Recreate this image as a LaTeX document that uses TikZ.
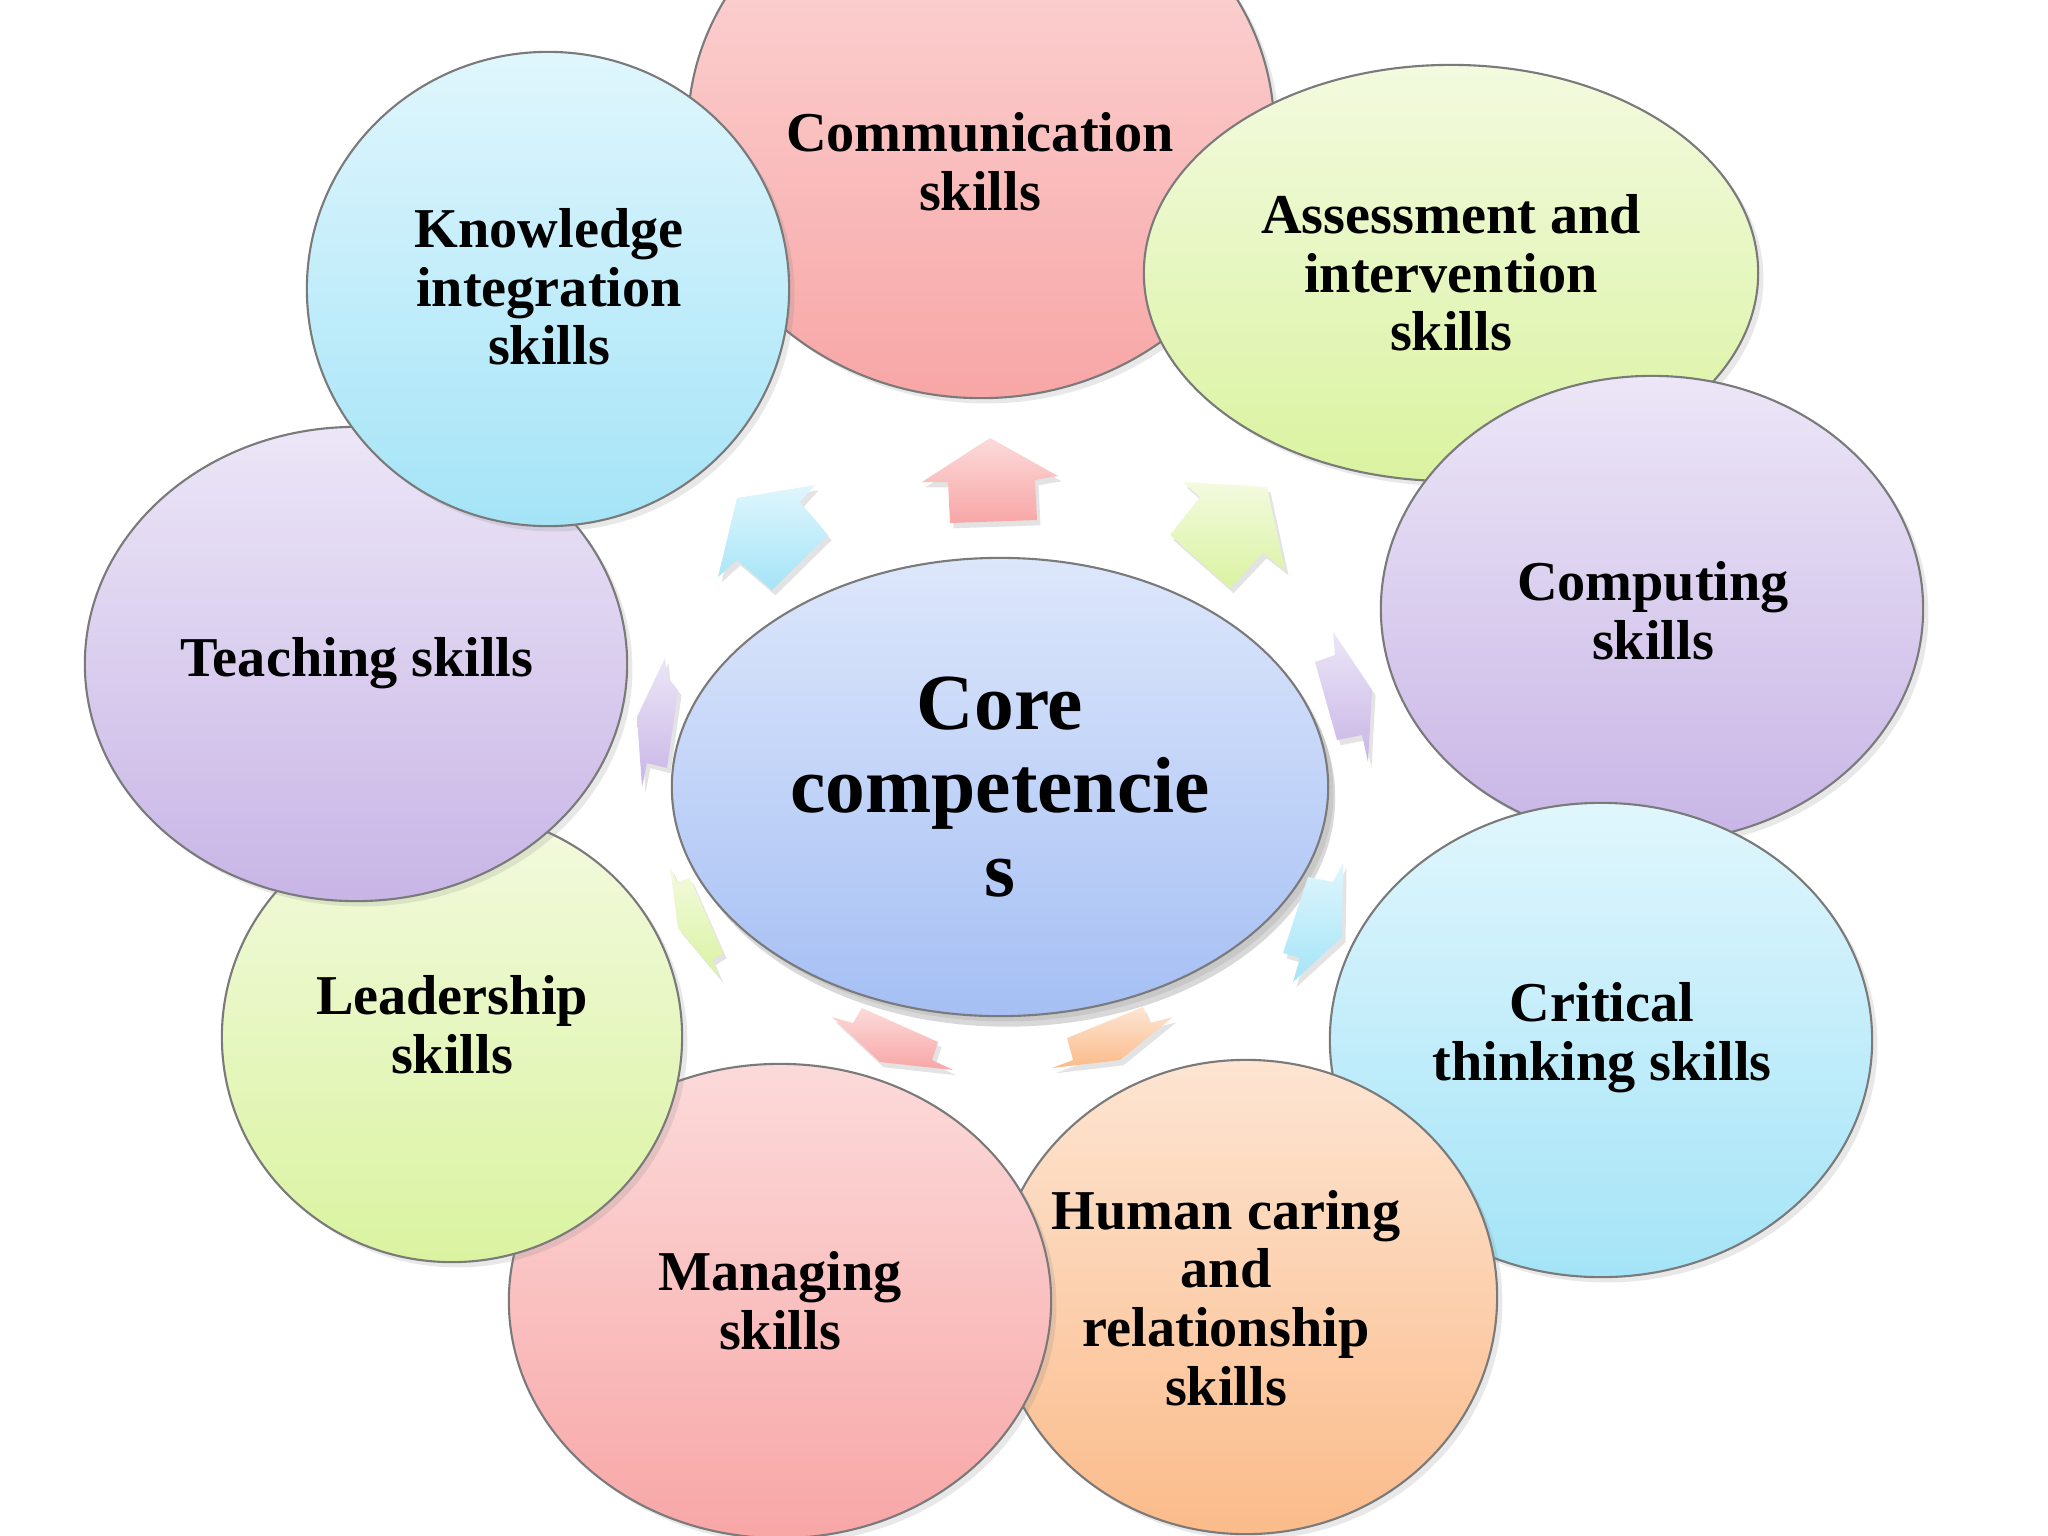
\documentclass[tikz,border=0pt]{standalone}
\usepackage{fontspec}
\setmainfont{Liberation Serif}
\usetikzlibrary{shapes.geometric,shadows}
\definecolor{RedTopClr}{HTML}{FCDADA}
\definecolor{RedBotClr}{HTML}{F8A6A6}
\definecolor{GreenTopClr}{HTML}{F3FADF}
\definecolor{GreenBotClr}{HTML}{DAF3A0}
\definecolor{PurpleTopClr}{HTML}{ECE6F7}
\definecolor{PurpleBotClr}{HTML}{C8B5E6}
\definecolor{CyanTopClr}{HTML}{E0F6FD}
\definecolor{CyanBotClr}{HTML}{A4E4F7}
\definecolor{OrangeTopClr}{HTML}{FDE5D2}
\definecolor{OrangeBotClr}{HTML}{FBBB8A}
\definecolor{BlueTopClr}{HTML}{DDE7FB}
\definecolor{BlueBotClr}{HTML}{A5BFF4}
\definecolor{EdgeClr}{HTML}{7A7A7A}

\begin{document}
\begin{tikzpicture}[x=0.01cm,y=-0.01cm,
  bubble/.style={ellipse,draw=EdgeClr,line width=0.6pt,inner sep=0pt,
    drop shadow={opacity=0.18,shadow xshift=1.5pt,shadow yshift=-1.5pt}},
  skill/.style={align=center,font=\bfseries\fontsize{16}{16.7}\selectfont},
  blockarrow/.style={drop shadow={opacity=0.22,shadow xshift=1pt,shadow yshift=-1.5pt}}]
\useasboundingbox[fill=white] (0,0) rectangle (2048,1536);

% outer bubbles
\node[bubble,top color=RedTopClr,bottom color=RedBotClr,minimum width=5.86cm,minimum height=5.36cm] (comm) at (981,130) {};
\node[bubble,top color=GreenTopClr,bottom color=GreenBotClr,minimum width=6.14cm,minimum height=4.16cm] (assess) at (1451,273) {};
\node[bubble,top color=PurpleTopClr,bottom color=PurpleBotClr,minimum width=5.42cm,minimum height=4.66cm] (comp) at (1652,609) {};
\node[bubble,top color=CyanTopClr,bottom color=CyanBotClr,minimum width=5.42cm,minimum height=4.74cm] (crit) at (1601,1040) {};
\node[bubble,top color=OrangeTopClr,bottom color=OrangeBotClr,minimum width=5.02cm,minimum height=4.74cm] (human) at (1246,1297) {};
\node[bubble,top color=RedTopClr,bottom color=RedBotClr,minimum width=5.42cm,minimum height=4.74cm] (manag) at (780,1301) {};
\node[bubble,top color=GreenTopClr,bottom color=GreenBotClr,minimum width=4.60cm,minimum height=4.50cm] (lead) at (452,1037) {};
\node[bubble,top color=PurpleTopClr,bottom color=PurpleBotClr,minimum width=5.42cm,minimum height=4.74cm] (teach) at (356,664) {};
\node[bubble,top color=CyanTopClr,bottom color=CyanBotClr,minimum width=4.82cm,minimum height=4.74cm] (know) at (548,289) {};

% texts
\node[skill] (commtxt) at (980,162) {Communication\\skills};
\node[skill] (assesstxt) at (1451,273) {Assessment and\\intervention\\skills};
\node[skill] (comptxt) at (1653,611) {Computing\\skills};
\node[skill] (crittxt) at (1602,1038) {Critical\\thinking skills};
\node[skill] (humantxt) at (1226,1298) {Human caring\\and\\relationship\\skills};
\node[skill] (managtxt) at (780,1301) {Managing\\skills};
\node[skill] (leadtxt) at (452,1025) {Leadership\\skills};
\node[skill] (teachtxt) at (357,663) {Teaching skills};
\node[skill] (knowtxt) at (549,287) {Knowledge\\integration\\skills};

% centre
\node[bubble,top color=BlueTopClr,bottom color=BlueBotClr,minimum width=6.56cm,minimum height=4.58cm,
  drop shadow={opacity=0.3,shadow xshift=2pt,shadow yshift=-3pt},
  align=center,font=\bfseries\fontsize{22.6}{23.8}\selectfont] (core) at (1000,787) {Core\\competencie\\s};

% arrows
\path[blockarrow,top color=RedTopClr,bottom color=RedBotClr]
  (990,438) -- (1058,476) -- (1035,480) -- (1037,520) -- (950,523) -- (948,482) -- (922,482) -- cycle;
\path[blockarrow,top color=GreenTopClr,bottom color=GreenBotClr]
  (1183,482) -- (1267,487) -- (1285,570) -- (1263,553) -- (1230,588) -- (1170,535) -- (1200,497) -- cycle;
\path[blockarrow,top color=PurpleTopClr,bottom color=PurpleBotClr]
  (1333,632) -- (1372,690) -- (1368,762) -- (1362,735) -- (1337,740) -- (1315,662) -- (1335,655) -- cycle;
\path[blockarrow,top color=CyanTopClr,bottom color=CyanBotClr]
  (1343,863) -- (1342,937) -- (1293,982) -- (1300,958) -- (1283,953) -- (1308,877) -- (1333,882) -- cycle;
\path[blockarrow,top color=OrangeTopClr,bottom color=OrangeBotClr]
  (1143,1007) -- (1150,1023) -- (1173,1017) -- (1120,1060) -- (1052,1068) -- (1073,1060) -- (1067,1038) -- cycle;
\path[blockarrow,top color=RedTopClr,bottom color=RedBotClr]
  (832,1017) -- (853,1023) -- (862,1008) -- (938,1042) -- (932,1060) -- (953,1070) -- (880,1062) -- cycle;
\path[blockarrow,top color=GreenTopClr,bottom color=GreenBotClr]
  (670,867) -- (677,882) -- (690,878) -- (723,953) -- (712,960) -- (720,978) -- (678,928) -- cycle;
\path[blockarrow,top color=PurpleTopClr,bottom color=PurpleBotClr]
  (665,658) -- (667,677) -- (678,690) -- (667,768) -- (647,763) -- (642,787) -- (637,717) -- cycle;
\path[blockarrow,top color=CyanTopClr,bottom color=CyanBotClr]
  (815,485) -- (800,502) -- (828,535) -- (772,590) -- (737,560) -- (718,577) -- (737,498) -- cycle;
\end{tikzpicture}
\end{document}
